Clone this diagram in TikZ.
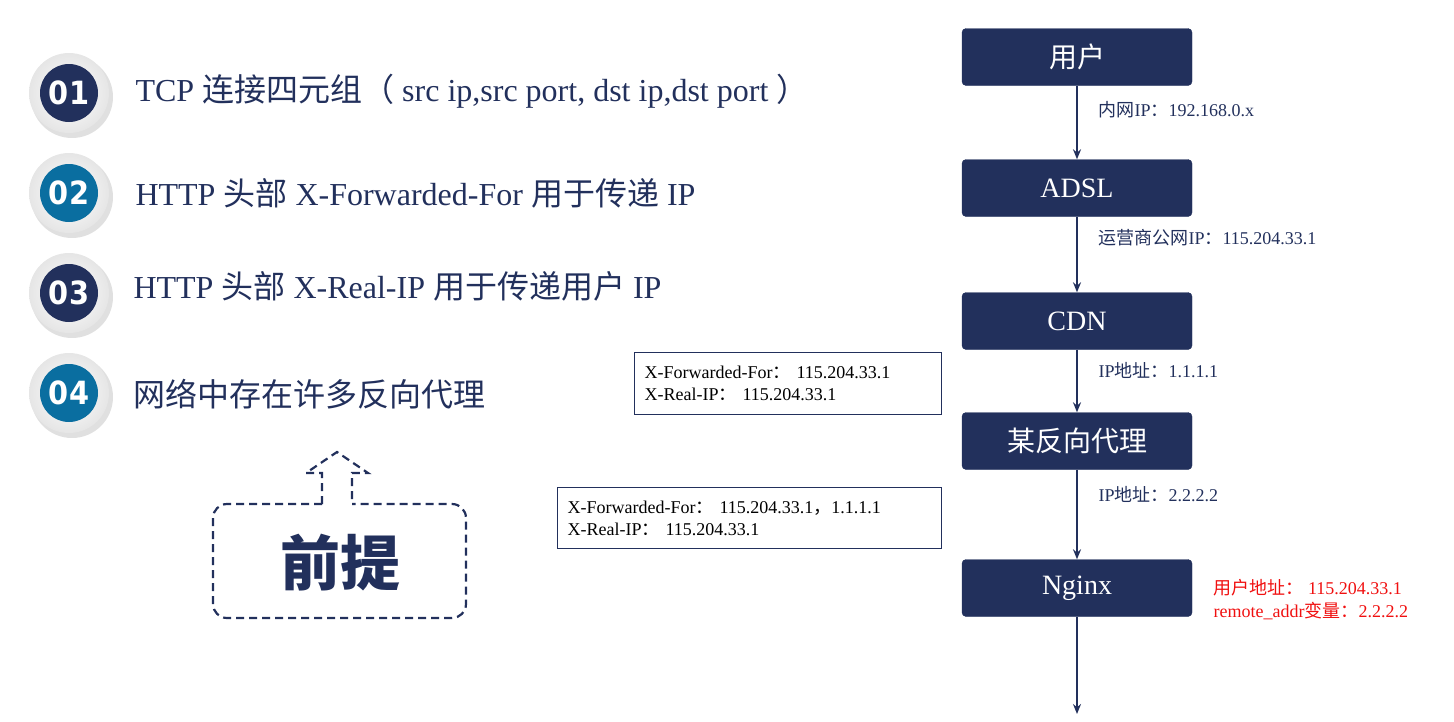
\documentclass[tikz,border=0pt]{standalone}
\usepackage{fontspec}
\setmainfont{Liberation Serif}
\newfontfamily\cjk{Noto Sans CJK SC}
\newfontfamily\numf{DejaVu Sans Condensed}
\newcommand{\zh}[1]{{\cjk #1}}
\definecolor{navy}{HTML}{22305C}
\definecolor{teal}{HTML}{0A6EA0}
\definecolor{redt}{HTML}{F01010}
\tikzset{
 flowbox/.style={fill=navy,draw=navy,rounded corners=4pt,minimum width=230pt,minimum height=57pt,text=white,font=\fontsize{28}{28}\selectfont},
 item/.style={anchor=west,text=navy,font=\fontsize{32}{32}\selectfont},
 lab/.style={anchor=west,text=navy,font=\fontsize{18}{18}\selectfont},
 infobox/.style={draw=navy,line width=1.3pt,align=left,anchor=north west,text=black,font=\fontsize{18}{22}\selectfont,inner sep=10pt},
 flow/.style={navy,line width=2pt,-{Stealth[length=10pt,width=8pt]}}
}
\usetikzlibrary{arrows.meta,shadows}
\begin{document}
\begin{tikzpicture}[x=1pt,y=-1pt]
\useasboundingbox (0,0) rectangle (1454,721);
% circles
\foreach \n/\y/\c in {01/93/navy,02/193/teal,03/293/navy,04/393/teal}{
 \fill[black!12] (72,97) ++(0,\y-93) circle (41);
 \shade[inner color=white,outer color=black!10] (69,\y) circle (40);
 \fill[\c] (69,\y) circle (29);
 \node[text=white,font=\numf\bfseries\fontsize{32}{32}\selectfont] (c\n) at (69,\y) {\n};
}
\node[item] (t1) at (132,91) {TCP \zh{连接四元组（} src ip,src port, dst ip,dst port \zh{）}};
\node[item] (t2) at (132,193) {HTTP \zh{头部} X-Forwarded-For \zh{用于传递} IP};
\node[item] (t3) at (130,286) {HTTP \zh{头部} X-Real-IP \zh{用于传递用户} IP};
\node[item] (t4) at (130,394) {\zh{网络中存在许多反向代理}};
% dashed callout
\draw[navy,line width=2.2pt,dash pattern=on 8pt off 5pt,rounded corners=14pt]
 (322,504) -- (213,504) -- (213,618) -- (466,618) -- (466,504) -- (352,504);
\draw[navy,line width=2.2pt,dash pattern=on 8pt off 5pt]
 (322,504) -- (322,473) -- (306,473) -- (337,452) -- (368,473) -- (352,473) -- (352,504);
\node[text=navy,font=\cjk\bfseries\fontsize{60}{60}\selectfont] (q) at (340,563) {前提};
% flow
\node[flowbox] (u) at (1077,57) {\zh{用户}};
\node[flowbox] (a) at (1077,188) {ADSL};
\node[flowbox] (c) at (1077,321) {CDN};
\node[flowbox] (p) at (1077,441) {\zh{某反向代理}};
\node[flowbox] (n) at (1077,588) {Nginx};
\coordinate (e) at (1077,714);
\draw[flow] (u) -- (a);
\draw[flow] (a) -- (c);
\draw[flow] (c) -- (p);
\draw[flow] (p) -- (n);
\draw[flow] (n) -- (e);
\node[lab] (l1) at (1095,110) {\zh{内网}IP\zh{：}192.168.0.x};
\node[lab] (l2) at (1095,238) {\zh{运营商公网}IP\zh{：}115.204.33.1};
\node[lab] (l3) at (1095,370) {IP\zh{地址：}1.1.1.1};
\node[lab] (l4) at (1095,494) {IP\zh{地址：}2.2.2.2};
\node[lab,text=redt,align=left,font=\fontsize{18}{23}\selectfont] (r) at (1210,600) {\zh{用户地址：} 115.204.33.1\\remote\_addr\zh{变量：}2.2.2.2};
\node[infobox,text width=287pt,minimum height=62pt] (b1) at (634,352) {X-Forwarded-For\zh{：} 115.204.33.1\\X-Real-IP\zh{：} 115.204.33.1};
\node[infobox,text width=364pt,minimum height=61pt] (b2) at (557,487) {X-Forwarded-For\zh{：} 115.204.33.1\zh{，}1.1.1.1\\X-Real-IP\zh{：} 115.204.33.1};
\end{tikzpicture}
\end{document}
